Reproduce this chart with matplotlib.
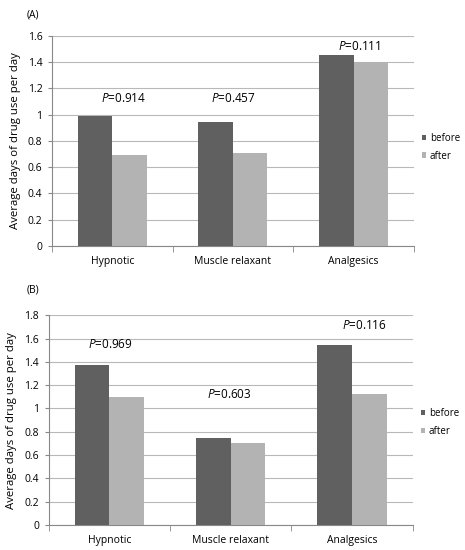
import numpy as np
import matplotlib
matplotlib.use("Agg")
import matplotlib.pyplot as plt
from matplotlib.ticker import FuncFormatter

plt.rcParams['font.family'] = ['Open Sans', 'DejaVu Sans']
plt.rcParams['mathtext.fontset'] = 'custom'
plt.rcParams['mathtext.rm'] = 'Open Sans'
plt.rcParams['mathtext.it'] = 'Open Sans:italic'

categories = ["Hypnotic", "Muscle relaxant", "Analgesics"]
series = ["before", "after"]

before_a = [0.99, 0.94, 1.45]
after_a = [0.69, 0.705, 1.40]
pvals_a = ["0.914", "0.457", "0.111"]

before_b = [1.37, 0.745, 1.545]
after_b = [1.10, 0.707, 1.125]
pvals_b = ["0.969", "0.603", "0.116"]

# where the P labels sit (x offset from category, y in data units)
p_pos_a = [(0.09, 1.12), (0.0, 1.12), (0.05, 1.52)]
p_pos_b = [(0.01, 1.55), (-0.015, 1.12), (0.1, 1.71)]

dark = "#606060"
light = "#b3b3b3"
grid_col = "#b8b8b8"
fs = 7.5

fig = plt.figure(figsize=(4.65, 5.5), dpi=100)
ax_a = fig.add_axes([0.112, 0.5527, 0.778, 0.3824])
ax_b = fig.add_axes([0.105, 0.0455, 0.7825, 0.3812])


def draw(ax, before, after, pvals, ppos, ymax, leg_y):
    x = np.arange(len(categories))
    w = 0.286
    ax.bar(x - w / 2, before, w, color=dark, label=series[0], zorder=3)
    ax.bar(x + w / 2, after, w, color=light, label=series[1], zorder=3)
    ax.set_xlim(-0.5, 2.5)
    ax.set_ylim(0, ymax)
    ax.set_yticks(np.arange(0, ymax + 0.01, 0.2))
    ax.yaxis.set_major_formatter(FuncFormatter(lambda v, p: f"{round(v, 1):g}"))
    ax.yaxis.grid(True, color=grid_col, linewidth=0.8, zorder=0)
    ax.set_xticks(x)
    ax.set_xticklabels(categories, fontsize=fs)
    ax.set_xticks([-0.5, 0.5, 1.5, 2.5], minor=True)
    ax.tick_params(axis='x', which='major', length=0, pad=7)
    ax.tick_params(axis='x', which='minor', length=4, color="#888888", direction='out')
    ax.tick_params(axis='y', labelsize=fs, length=3, color="#888888", pad=4)
    for s in ['top', 'right']:
        ax.spines[s].set_visible(False)
    ax.spines['left'].set_color("#888888")
    ax.spines['bottom'].set_color("#888888")
    ax.set_ylabel("Average days of drug use per day", fontsize=8.2, labelpad=5)
    for i, (pv, (dx, py)) in enumerate(zip(pvals, ppos)):
        ax.text(i + dx, py, r"$\it{P}$=" + pv, ha='center', va='center', fontsize=8.5)
    ax.legend(loc='center left', bbox_to_anchor=(1.0, leg_y), frameon=False,
              fontsize=7, handlelength=0.45, handleheight=0.45, handletextpad=0.35,
              labelspacing=0.7, borderaxespad=0.45)


draw(ax_a, before_a, after_a, pvals_a, p_pos_a, 1.6, 0.47)
draw(ax_b, before_b, after_b, pvals_b, p_pos_b, 1.8, 0.49)

fig.text(0.071, 0.973, "(A)", fontsize=fs, va='center', ha='center')
fig.text(0.071, 0.473, "(B)", fontsize=fs, va='center', ha='center')

fig.savefig("out.png", dpi=100)
